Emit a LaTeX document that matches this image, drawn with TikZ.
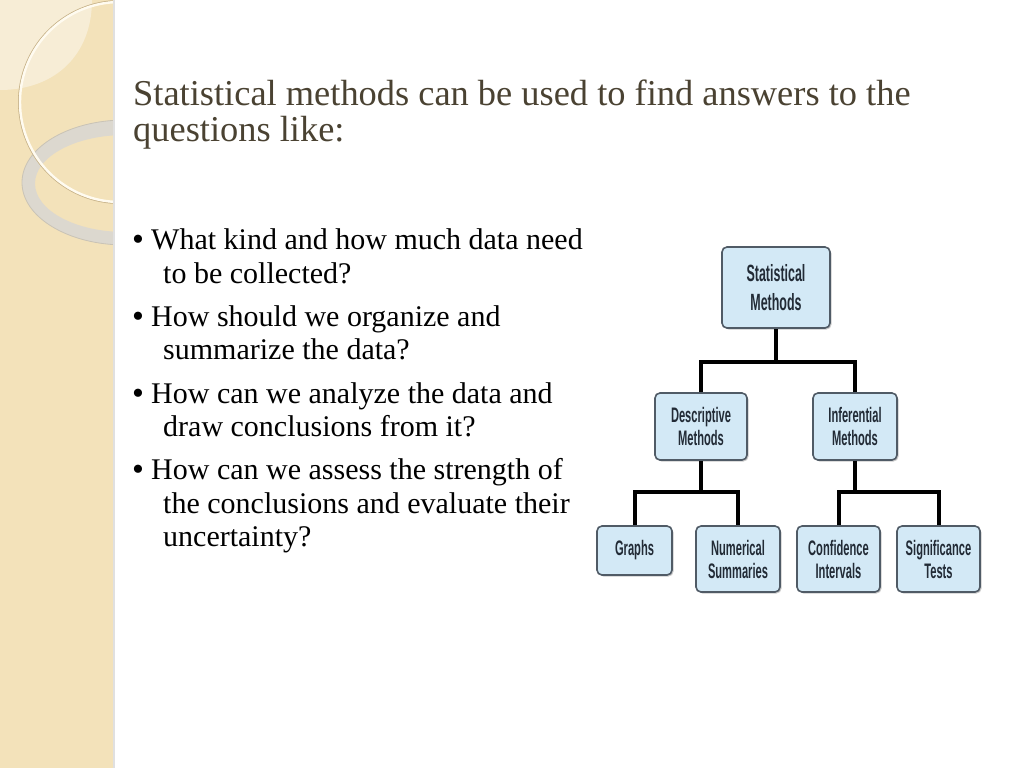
\documentclass[tikz,border=0pt]{standalone}
\usepackage{fontspec}
\setmainfont{Liberation Serif}
\newfontfamily\boxfont[FakeStretch=0.53]{Liberation Sans}
\usetikzlibrary{shadows}
\definecolor{sidebg}{HTML}{F3E2BA}
\definecolor{sidelight}{HTML}{F7EDD6}
\definecolor{ringgray}{HTML}{DCD8CF}
\definecolor{ringedge}{HTML}{C9C3B6}
\definecolor{arcwhite}{HTML}{FFFBF0}
\definecolor{arctan}{HTML}{C7B288}
\definecolor{titlecol}{HTML}{4A4232}
\definecolor{boxfill}{HTML}{D3E9F6}
\definecolor{boxedge}{HTML}{505B66}
\definecolor{boxtext}{HTML}{222B36}
\tikzset{
  titletext/.style={anchor=base west, inner sep=0pt, text=titlecol, font=\fontsize{36.4}{37}\selectfont},
  itemtext/.style={anchor=base west, inner sep=0pt, text=black, font=\fontsize{30}{33}\selectfont},
  bulletmark/.style={anchor=base west, inner sep=0pt, text=black, font=\fontsize{34}{36}\selectfont},
  box/.style={draw=boxedge, line width=1.6pt, fill=boxfill, rounded corners=5pt, inner sep=0pt,
    align=center, text=boxtext, drop shadow={shadow xshift=1.5pt, shadow yshift=-1.5pt, fill=black!35, opacity=0.6}},
  bigbox/.style={box, font=\boxfont\bfseries\fontsize{23.5}{29}\selectfont},
  smallbox/.style={box, font=\boxfont\bfseries\fontsize{21}{23}\selectfont},
  conn/.style={draw=black, line width=4pt, line join=miter}
}
\begin{document}
\begin{tikzpicture}[x=1pt,y=-1pt]
\useasboundingbox (0,0) rectangle (1024,768);
\fill[white] (0,0) rectangle (1024,768);
% sidebar
\fill[sidebg] (0,0) rectangle (113,768);
\begin{scope}
\clip (0,0) rectangle (113,768);
\fill[sidelight] (0,0) -- (92,0) .. controls (92,55) and (55,90) .. (0,90) -- cycle;
\fill[ringgray, even odd rule] (125,182.5) ellipse [x radius=103pt, y radius=62.5pt]
  (125,183.5) ellipse [x radius=90pt, y radius=48.5pt];
\draw[ringedge, line width=0.8pt] (125,182.5) ellipse [x radius=103pt, y radius=62.5pt];
\draw[arctan, line width=1pt] (120,102) circle [radius=101.5pt];
\draw[arcwhite, line width=2.4pt] (120,102) circle [radius=100pt];
\end{scope}
\draw[black!12, line width=2pt] (114,0) -- (114,768);
% title
\node[titletext] (t1) at (133,105) {Statistical methods can be used to find answers to the};
\node[titletext] (t2) at (133,141) {questions like:};
% bullets
\node[bulletmark] (b1) at (132,250) {•};
\node[itemtext] (q1a) at (151,249) {What kind and how much data need};
\node[itemtext] (q1b) at (163,283) {to be collected?};
\node[bulletmark] (b2) at (132,327) {•};
\node[itemtext] (q2a) at (151,326) {How should we organize and};
\node[itemtext] (q2b) at (163,359) {summarize the data?};
\node[bulletmark] (b3) at (132,404) {•};
\node[itemtext] (q3a) at (151,403) {How can we analyze the data and};
\node[itemtext] (q3b) at (163,436) {draw conclusions from it?};
\node[bulletmark] (b4) at (132,480) {•};
\node[itemtext] (q4a) at (151,479) {How can we assess the strength of};
\node[itemtext] (q4b) at (163,513) {the conclusions and evaluate their};
\node[itemtext] (q4c) at (163,546) {uncertainty?};
% diagram
\node[bigbox, minimum width=108pt, minimum height=81pt] (top) at (776,287.5) {Statistical\\Methods};
\node[smallbox, minimum width=92pt, minimum height=67pt] (desc) at (701,426.5) {Descriptive\\Methods};
\node[smallbox, minimum width=84pt, minimum height=67pt] (inf) at (855,426.5) {Inferential\\Methods};
\node[smallbox, minimum width=75pt, minimum height=49pt] (gra) at (634.5,550.5) {Graphs};
\node[smallbox, minimum width=84pt, minimum height=66pt] (num) at (738,559) {Numerical\\Summaries};
\node[smallbox, minimum width=83pt, minimum height=66pt] (conf) at (838.5,559) {Confidence\\Intervals};
\node[smallbox, minimum width=83pt, minimum height=66pt] (sig) at (938.5,559) {Significance\\Tests};
\coordinate (j1) at (776,362);
\coordinate (j2) at (701,492);
\coordinate (j3) at (855,492);
\draw[conn] (top.south) -- (j1);
\draw[conn] (desc.north) |- (j1) -| (inf.north);
\draw[conn] (desc.south) -- (j2);
\draw[conn] (gra.north) |- (j2) -| (num.north);
\draw[conn] (inf.south) -- (j3);
\draw[conn] (conf.north) |- (j3) -| (sig.north);
\end{tikzpicture}
\end{document}
